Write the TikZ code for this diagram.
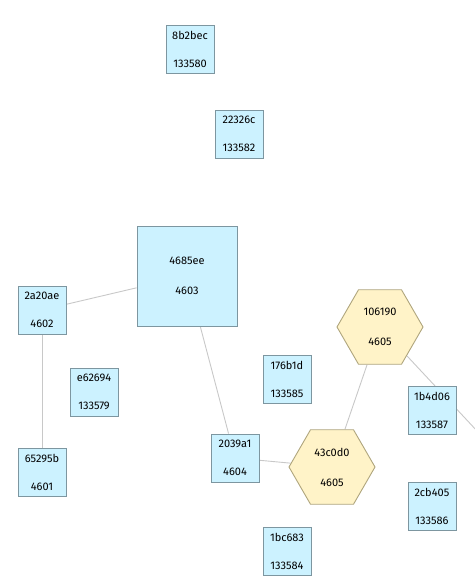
\documentclass[tikz,border=0pt]{standalone}
\usepackage{fontspec}
\setmainfont{Fira Sans}
\usetikzlibrary{shapes.geometric,backgrounds}
\definecolor{boxfill}{RGB}{204,242,255}
\definecolor{boxline}{RGB}{125,150,160}
\definecolor{hexfill}{RGB}{255,243,200}
\definecolor{hexline}{RGB}{175,165,125}
\definecolor{linkcol}{RGB}{200,200,200}

\begin{document}
\begin{tikzpicture}[
    x=1pt, y=-1pt,
    every node/.style={font=\fontsize{11}{14}\selectfont, align=center},
    smallbox/.style={draw=boxline, fill=boxfill, line width=0.9pt,
                     minimum width=48pt, minimum height=48pt, inner sep=2pt},
    bigbox/.style={smallbox, minimum width=100pt, minimum height=100pt},
    hexnode/.style={regular polygon, regular polygon sides=6, draw=hexline,
                    fill=hexfill, line width=0.9pt, minimum size=86pt, inner sep=0pt},
    link/.style={draw=linkcol, line width=0.9pt},
]
\path[use as bounding box, clip] (0,0) rectangle (474,586);

% ============ TOP ROW ============
\node[smallbox] (n8b2bec) at (190,49) {8b2bec\\[14pt]133580};
\node[smallbox] (n22326c) at (239,134) {22326c\\[14pt]133582};

% ============ LEFT CLUSTER ============
\node[bigbox] (n4685ee) at (187,276) {4685ee\\[16pt]4603};
\node[smallbox] (n2a20ae) at (42,310) {2a20ae\\[14pt]4602};
\node[smallbox] (ne62694) at (94,392) {e62694\\[14pt]133579};
\node[smallbox] (n65295b) at (42,472) {65295b\\[14pt]4601};

% ============ RIGHT CLUSTER ============
\node[smallbox] (n176b1d) at (287,379) {176b1d\\[14pt]133585};
\node[hexnode] (n106190) at (380,327) {106190\\[16pt]4605};
\node[smallbox] (n1b4d06) at (432,410) {1b4d06\\[14pt]133587};
\node[smallbox] (n2039a1) at (235,458) {2039a1\\[14pt]4604};
\node[hexnode] (n43c0d0) at (332,467) {43c0d0\\[16pt]4605};
\node[smallbox] (n2cb405) at (432,506) {2cb405\\[14pt]133586};
\node[smallbox] (n1bc683) at (287,551) {1bc683\\[14pt]133584};

% link leaving the picture on the right
\coordinate (offright) at (520,477);

% ============ LINKS ============
\begin{scope}[on background layer]
  \draw[link] (n2a20ae) -- (n4685ee);
  \draw[link] (n2a20ae) -- (n65295b);
  \draw[link] (n4685ee) -- (n2039a1);
  \draw[link] (n2039a1) -- (n43c0d0);
  \draw[link] (n43c0d0) -- (n106190);
  \draw[link] (n106190) -- (offright);
\end{scope}

\end{tikzpicture}
\end{document}
